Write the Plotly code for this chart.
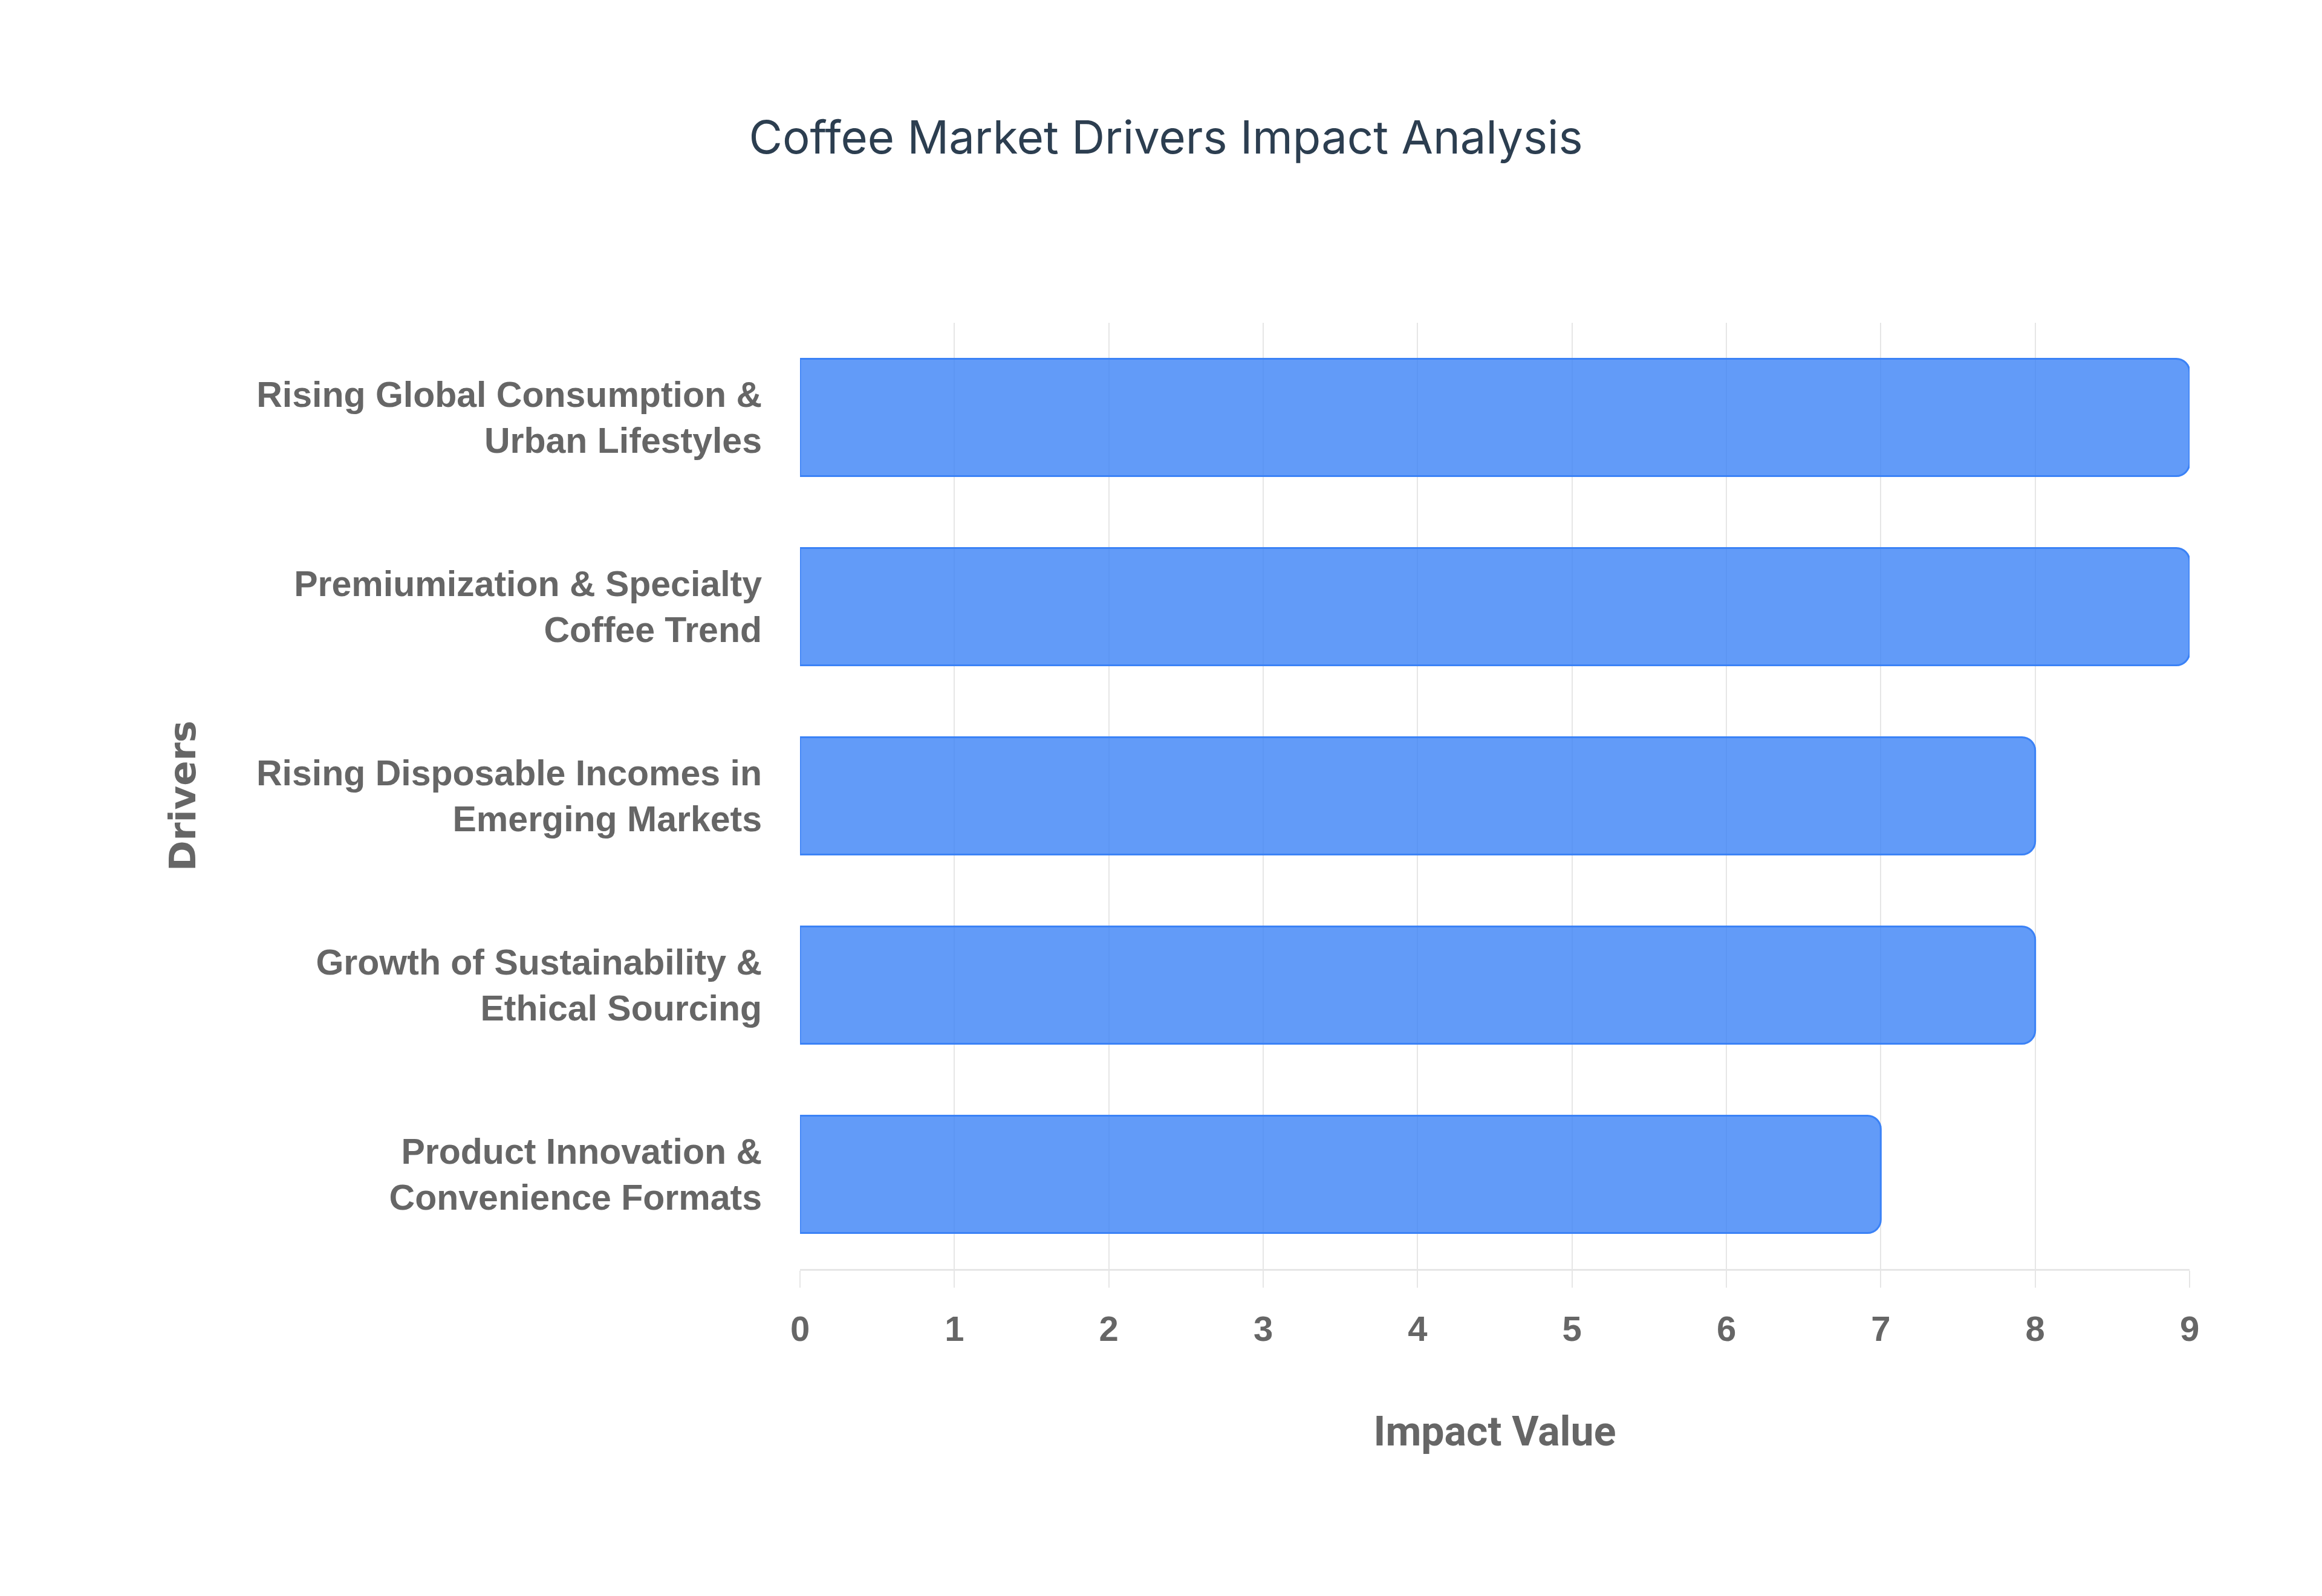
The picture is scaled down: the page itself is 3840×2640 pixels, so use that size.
import plotly.graph_objects as go

# drivers listed top to bottom as they appear in the chart
drivers = [
    "Rising Global Consumption &<br>Urban Lifestyles",
    "Premiumization & Specialty<br>Coffee Trend",
    "Rising Disposable Incomes in<br>Emerging Markets",
    "Growth of Sustainability &<br>Ethical Sourcing",
    "Product Innovation &<br>Convenience Formats",
]
impact = [9, 9, 8, 8, 7]
x_ticks = [0, 1, 2, 3, 4, 5, 6, 7, 8, 9]

fig = go.Figure()
fig.add_trace(go.Bar(
    x=impact,
    y=drivers,
    orientation="h",
    marker=dict(color="rgba(59,130,246,0.8)",
                line=dict(color="#3B82F6", width=3)),
    showlegend=False,
))

fig.update_layout(
    width=3840,
    height=2640,
    paper_bgcolor="white",
    plot_bgcolor="white",
    margin=dict(l=1315, r=227, t=526, b=549),
    bargap=0.38,
    barcornerradius=22,
    title=dict(
        text="Coffee Market Drivers Impact Analysis",
        font=dict(family="Inter", size=76, color="#2C3E50"),
        x=0.5, xanchor="center",
        y=1 - 219 / 2640, yanchor="middle", yref="container",
    ),
)

# x axis: impact value
fig.update_xaxes(
    range=[0, 9],
    tickvals=x_ticks,
    showgrid=True, gridcolor="#E6E6E6", gridwidth=2,
    zeroline=False,
    showline=True, linecolor="#E6E6E6", linewidth=3,
    ticks="outside", ticklen=28, tickcolor="#E6E6E6", tickwidth=2,
    ticklabelstandoff=18,
    tickfont=dict(family="Liberation Sans", size=58, color="#666666", weight="bold"),
    title=dict(text="Impact Value", standoff=115,
               font=dict(family="Roboto", size=68, color="#666666", weight="bold")),
)

# y axis: drivers
fig.update_yaxes(
    autorange="reversed",
    showgrid=False,
    showline=False,
    ticks="",
    ticklabelstandoff=62,
    tickfont=dict(family="Liberation Sans", size=59, color="#666666", weight="bold"),
    title=dict(text="Drivers", standoff=80,
               font=dict(family="DejaVu Sans", size=61, color="#666666", weight="bold")),
)

fig.write_html("out.html")
